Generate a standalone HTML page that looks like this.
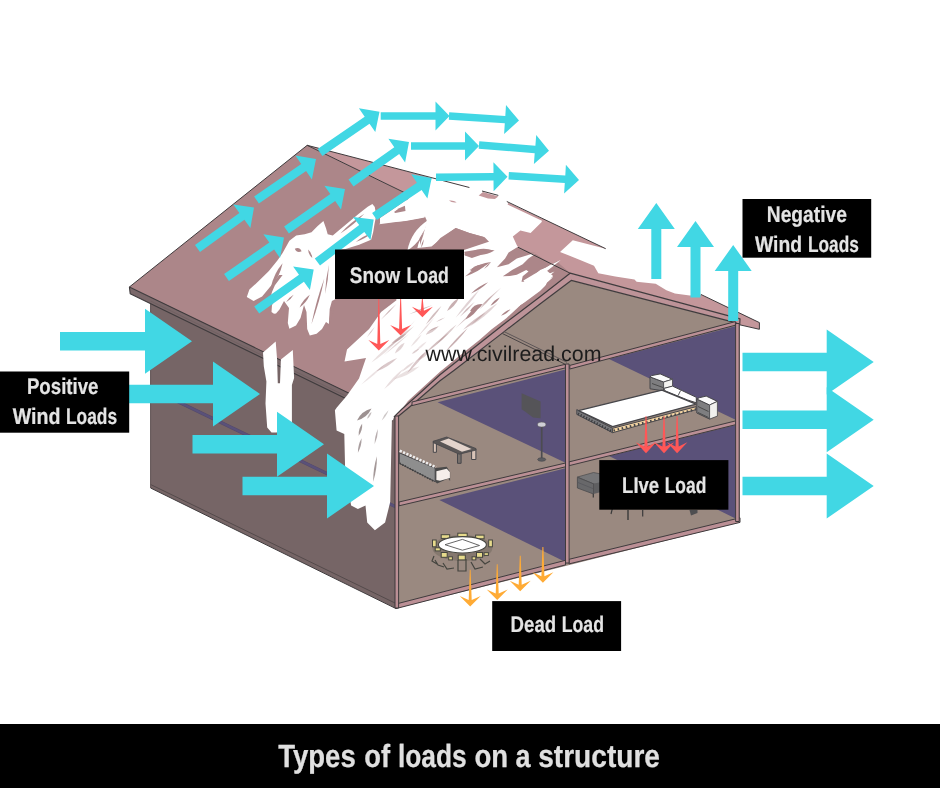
<!DOCTYPE html>
<html lang="en"><head><meta charset="utf-8"><title>Types of loads on a structure</title>
<style>
html,body{margin:0;padding:0;background:#fff;}
body{width:940px;height:788px;overflow:hidden;}
svg{display:block;font-family:"Liberation Sans",sans-serif;}
text{text-rendering:geometricPrecision;}
</style></head><body>
<svg width="940" height="788" viewBox="0 0 940 788">
<defs><filter id="gs" x="0" y="0" width="100%" height="100%" color-interpolation-filters="sRGB"><feColorMatrix type="saturate" values="0"/></filter></defs>
<rect width="940" height="788" fill="#fff"/>
<polygon points="150.6,296.0 396.0,415.0 396.0,608.6 150.6,488.0" fill="#766566" />
<line x1="150.6" y1="484.5" x2="396.0" y2="603.5" stroke="#544a4b" stroke-width="1" />
<line x1="150.6" y1="488.0" x2="396.0" y2="608.6" stroke="#3f3b3d" stroke-width="1" />
<line x1="150.6" y1="296.0" x2="150.6" y2="488.0" stroke="#5f5253" stroke-width="1" />
<line x1="150.6" y1="388.5" x2="396.0" y2="506.9" stroke="#54496a" stroke-width="3.2" />
<line x1="150.6" y1="388.5" x2="396.0" y2="506.9" stroke="#5a5179" stroke-width="2.4" />
<polygon points="307.2,145.3 499.0,195.6 506.8,201.5 605.7,248.7 700.8,294.4 759.4,322.6 759.4,329.3 739.7,324.8 740.0,318.8 570.1,273.2" fill="#c4979b" />
<polygon points="129.4,287.0 307.2,145.3 570.1,273.2 540.0,296.8 506.0,322.5 479.4,343.5 440.0,374.8 420.0,393.0 402.0,409.0 394.2,416.6 392.0,414.0" fill="#ac8689" />
<polygon points="129.4,287.0 392.0,414.0 392.0,421.0 130.2,293.8" fill="#7a686a" stroke="#3f3b3d" stroke-width="1.1" stroke-linejoin="round" />
<line x1="150.6" y1="301.0" x2="392.0" y2="418.5" stroke="#6a5c5d" stroke-width="0.6" />
<path d="M129.4,287 L307.2,145.3" fill="none" stroke="#3f3b3d" stroke-width="1"/>
<polygon points="246.8,296.9 249.4,289.6 258.7,281.1 268.9,270.9 277.4,260.6 282.6,253.0 289.4,240.7 296.2,235.6 304.7,234.3 311.5,232.2 317.4,226.3 323.4,221.1 326.0,228.3 327.7,234.3 332.8,235.6 338.7,230.5 348.9,222.0 359.1,213.5 367.7,206.7 372.4,204.1 374.8,207.0 376.2,215.5 374.5,224.0 373.1,232.6 371.1,239.7 359.1,244.8 345.5,249.1 335.7,249.9 335.7,298.9 331.9,301.0 329.7,309.1 328.9,324.0 326.0,322.0 322.0,329.0 316.6,333.8 309.8,335.5 307.2,329.0 306.5,312.0 304.0,305.0 300.5,318.0 296.0,325.5 289.4,328.7 287.8,323.0 289.0,308.0 284.0,301.0 279.5,309.5 276.0,313.5 274.0,313.8 271.5,312.0 272.0,305.0 278.0,296.0 270.0,299.0 272.0,292.1 274.9,285.3 282.6,275.1 279.1,275.1 270.6,286.3 262.1,296.4 253.6,301.0" fill="#fff"/>
<path d="M271.0,287.0 Q279.8,276.6 282.6,263.2 Q273.7,273.6 271.0,287.0Z" fill="#ac8689"/>
<path d="M294.8,248.7 Q296.9,253.5 301.6,251.3 Q299.5,246.5 294.8,248.7Z" fill="#ac8689"/>
<path d="M308.1,249.6 Q308.4,254.7 312.3,258.1 Q312.0,252.9 308.1,249.6Z" fill="#ac8689"/>
<path d="M299.6,307.4 Q306.5,302.6 309.8,294.7 Q302.8,299.6 299.6,307.4Z" fill="#ac8689"/>
<path d="M311.5,324.0 Q319.7,301.7 324.3,278.5 Q316.1,300.7 311.5,324.0Z" fill="#ac8689"/>
<path d="M325.1,293.8 Q328.5,279.6 328.9,264.9 Q325.5,279.2 325.1,293.8Z" fill="#ac8689"/>
<path d="M286.0,302.3 Q290.9,299.6 293.6,294.7 Q288.7,297.4 286.0,302.3Z" fill="#ac8689"/>
<path d="M340.4,233.4 Q353.6,225.2 364.3,213.8 Q351.0,222.0 340.4,233.4Z" fill="#ac8689"/>
<path d="M335.3,230.0 Q342.9,226.0 348.9,219.8 Q341.3,223.8 335.3,230.0Z" fill="#ac8689"/>
<path d="M355.7,241.9 Q364.7,238.9 371.9,232.9 Q363.0,235.9 355.7,241.9Z" fill="#ac8689"/>
<path d="M329.4,324.0 Q334.6,312.9 334.5,300.6 Q329.3,311.7 329.4,324.0Z" fill="#ac8689"/>
<polygon points="263.0,352.6 275.7,341.5 277.1,359.4 277.8,383.2 280.0,383.2 280.9,359.4 292.8,350.0 294.1,378.1 291.9,384.9 291.9,422.3 276.6,432.6 271.5,432.6 267.2,427.4 265.5,403.6 266.4,381.5 263.8,366.2" fill="#fff"/>
<polygon points="344.5,361.5 347.0,349.6 369.1,329.1 381.1,312.1 396.4,300.2 396.0,292.0 420.0,270.0 464.0,250.0 500.0,238.0 518.0,246.7 570.0,273.2 540.0,296.8 506.0,322.5 479.4,343.5 440.0,374.8 420.0,393.0 402.0,409.0 394.0,417.0 393.0,420.0 391.9,420.4 390.2,502.1 385.1,522.6 374.9,530.2 367.2,522.6 365.5,505.5 357.9,508.9 351.1,505.5 345.1,468.1 344.3,434.0 336.6,430.6 334.9,410.2 336.8,407.4 347.0,395.5 359.0,378.5 366.0,358.0" fill="#fff"/>
<polygon points="379.1,224.3 389.4,214.7 403.4,204.5 411.1,195.5 417.4,189.1 431.5,178.9 432.0,160.0 545.0,200.0 541.7,221.9 530.6,233.0 520.4,230.4 512.8,236.4 517.9,247.4 501.7,255.1 484.7,237.2 469.4,233.0 455.7,227.9 442.1,238.1 431.5,246.6 417.4,247.9 421.3,231.3 426.4,219.8 423.8,217.2 403.4,221.1" fill="#fff"/>
<polygon points="572.8,240.2 605.7,248.7 640.0,255.0 705.0,290.0 702.6,294.5 689.8,295.5 674.9,293.4 666.4,290.2 655.7,283.8 636.6,281.7 634.5,279.6 615.3,276.4 598.3,273.2 594.0,265.7 581.3,260.4 560.0,251.9" fill="#fff"/>
<polygon points="431.9,247.4 440.4,238.1 455.7,227.9 469.4,233.0 484.7,237.2 471.1,238.4 459.1,241.5 450.6,249.1" fill="#ac8689"/>
<polygon points="420.0,217.7 425.1,216.8 426.8,221.1 423.4,234.7 420.0,244.9" fill="#ac8689"/>
<path d="M463.4,255.1 Q479.6,255.6 494.9,250.0 Q478.7,249.5 463.4,255.1Z" fill="#ac8689"/>
<path d="M465.1,276.4 Q478.5,272.2 488.9,262.8 Q475.5,266.9 465.1,276.4Z" fill="#ac8689"/>
<path d="M471.1,293.4 Q480.7,289.6 488.1,282.3 Q478.5,286.2 471.1,293.4Z" fill="#ac8689"/>
<polygon points="408.0,401.0 420.0,390.0 440.0,371.8 458.0,357.0 479.4,340.0 492.0,329.0 506.0,318.5 519.0,306.5 540.0,291.0 548.0,283.0 560.0,276.0 570.1,273.2 540.0,296.8 506.0,322.5 479.4,343.5 440.0,374.8 420.0,393.0 402.0,409.0" fill="#ac8689"/>
<path d="M465.5,319.4 Q475.4,314.8 480.0,304.9 Q470.1,309.5 465.5,319.4Z" fill="#ac8689"/>
<polygon points="478.7,195.5 483.0,192.1 498.3,196.4 494.9,198.9 488.1,198.6" fill="#c4979b"/>
<path d="M448.9,200.6 Q452.4,203.2 456.6,202.3 Q453.1,199.8 448.9,200.6Z" fill="#c4979b"/>
<polygon points="496.9,267.2 505.1,258.4 508.6,252.6 518.0,246.7 530.9,252.6 535.5,252.8 516.8,258.4 508.6,264.3" fill="#ac8689"/>
<polygon points="502.8,276.2 512.1,270.1 522.7,264.3 528.5,258.4 535.5,253.7 542.6,258.4 551.9,264.0 546.1,267.8 540.2,270.1 533.2,276.0 526.2,281.8 521.5,281.8 522.7,276.2 528.5,271.5 526.2,270.1 516.8,274.8 509.8,276.0" fill="#ac8689"/>
<polygon points="556.6,261.3 570.6,273.6 518.0,315.7 516.8,311.1 520.3,305.2 530.9,299.4 537.9,293.5 544.9,287.7 547.2,281.8 553.1,276.0 546.1,270.1 551.9,264.3" fill="#ac8689"/>
<path d="M526.6,285.4 Q546.0,272.4 560.7,259.9 Q543.3,268.2 523.4,280.5Z" fill="#fff"/>
<path d="M536.9,285.2 Q547.1,278.6 554.5,271.5 Q544.8,274.8 534.2,280.7Z" fill="#fff"/>
<path d="M541.2,286.8 Q548.2,281.9 553.3,276.9 Q546.6,279.4 539.3,283.8Z" fill="#fff"/>
<path d="M470.0,252.6 Q482.4,257.5 494.0,250.8 Q481.6,245.8 470.0,252.6Z" fill="#ac8689"/>
<path d="M470.0,271.3 Q478.8,272.5 483.5,264.8 Q474.6,263.6 470.0,271.3Z" fill="#ac8689"/>
<path d="M490.5,305.8 Q496.5,303.3 499.8,297.6 Q493.8,300.1 490.5,305.8Z" fill="#ac8689"/>
<path d="M470.0,311.1 Q478.5,311.6 482.3,304.0 Q473.8,303.5 470.0,311.1Z" fill="#ac8689"/>
<path d="M501.0,315.7 Q506.8,314.1 510.4,309.3 Q504.6,311.0 501.0,315.7Z" fill="#ac8689"/>
<path d="M484.0,268.9 Q488.4,266.3 491.1,261.9 Q486.7,264.6 484.0,268.9Z" fill="#ac8689"/>
<polygon points="380.0,223.0 380.0,217.9 391.5,210.2 405.5,200.6 414.5,198.7 424.7,217.5 405.5,221.1" fill="#fff"/>
<polygon points="394.0,212.1 399.1,208.3 404.9,205.7 405.5,210.9 395.3,212.9" fill="#ac8689"/>
<path d="M407.4,250.4 Q423.8,239.7 427.5,220.4 Q411.1,231.2 407.4,250.4Z" fill="#fff"/>
<path d="M416.4,246.6 Q421.9,238.6 424.7,229.4 Q419.2,237.3 416.4,246.6Z" fill="#ac8689"/>
<path d="M420.9,247.9 Q423.7,243.8 424.0,238.9 Q421.2,243.0 420.9,247.9Z" fill="#ac8689"/>
<polygon points="464.3,251.7 477.0,249.8 493.6,250.2 484.7,253.6 471.9,258.1 464.9,255.5" fill="#ac8689"/>
<path d="M469.4,270.0 Q481.2,268.6 491.1,261.9 Q479.2,263.3 469.4,270.0Z" fill="#ac8689"/>
<path d="M357.0,420.4 Q367.1,417.9 371.5,408.5 Q361.4,411.1 357.0,420.4Z" fill="#857576" fill-opacity="0.80"/>
<path d="M358.7,435.7 Q362.7,430.4 362.1,423.8 Q358.1,429.1 358.7,435.7Z" fill="#857576" fill-opacity="0.75"/>
<path d="M357.9,452.8 Q361.7,446.0 361.6,438.3 Q357.8,445.0 357.9,452.8Z" fill="#857576" fill-opacity="0.70"/>
<path d="M373.2,481.7 Q377.1,469.2 376.9,456.2 Q373.0,468.6 373.2,481.7Z" fill="#857576" fill-opacity="0.75"/>
<path d="M374.6,444.3 Q377.9,437.0 378.0,428.9 Q374.6,436.2 374.6,444.3Z" fill="#857576" fill-opacity="0.60"/>
<path d="M381.7,420.4 Q386.5,416.3 388.5,410.2 Q383.7,414.4 381.7,420.4Z" fill="#857576" fill-opacity="0.40"/>
<path d="M367.2,418.7 Q370.8,416.2 371.5,411.9 Q367.9,414.4 367.2,418.7Z" fill="#857576" fill-opacity="0.50"/>
<path d="M381.1,319.4 Q389.6,312.6 396.4,304.0 Q387.8,310.8 381.1,319.4Z" fill="#ac8689" fill-opacity="0.60"/>
<path d="M367.0,337.2 Q371.7,332.7 374.7,327.0 Q370.0,331.5 367.0,337.2Z" fill="#ac8689" fill-opacity="0.50"/>
<path d="M391.3,343.6 Q400.5,340.8 406.6,333.4 Q397.4,336.2 391.3,343.6Z" fill="#ac8689" fill-opacity="0.55"/>
<path d="M409.2,314.3 Q421.2,311.2 432.1,305.3 Q420.1,308.4 409.2,314.3Z" fill="#ac8689" fill-opacity="0.60"/>
<path d="M411.7,353.8 Q416.5,352.8 419.4,348.7 Q414.5,349.8 411.7,353.8Z" fill="#ac8689" fill-opacity="0.40"/>
<path d="M393.8,379.4 Q408.3,376.4 419.4,366.6 Q404.9,369.6 393.8,379.4Z" fill="#ac8689" fill-opacity="0.25"/>
<path d="M401.5,371.7 Q409.2,368.2 414.3,361.5 Q406.6,365.0 401.5,371.7Z" fill="#ac8689" fill-opacity="0.30"/>
<path d="M383.6,309.1 Q389.4,305.8 393.8,300.9 Q388.1,304.2 383.6,309.1Z" fill="#ac8689" fill-opacity="0.50"/>
<path d="M427.0,332.1 Q433.9,329.9 439.8,325.7 Q433.0,328.0 427.0,332.1Z" fill="#ac8689" fill-opacity="0.50"/>
<path d="M436.0,321.9 Q440.9,320.6 444.9,317.4 Q440.0,318.8 436.0,321.9Z" fill="#ac8689" fill-opacity="0.50"/>
<path d="M417.5,336.9 Q427.1,327.9 434.7,317.2 Q425.1,326.2 417.5,336.9Z" fill="#ac8689" fill-opacity="0.30"/>
<path d="M425.6,334.7 Q433.5,333.1 438.3,326.6 Q430.4,328.2 425.6,334.7Z" fill="#ac8689" fill-opacity="0.43"/>
<path d="M384.2,389.0 Q395.6,380.6 403.4,368.7 Q392.0,377.2 384.2,389.0Z" fill="#ac8689" fill-opacity="0.28"/>
<path d="M436.6,344.0 Q448.1,335.7 456.6,324.4 Q445.1,332.7 436.6,344.0Z" fill="#ac8689" fill-opacity="0.43"/>
<path d="M371.4,362.4 Q386.4,353.1 398.0,339.7 Q382.9,349.0 371.4,362.4Z" fill="#ac8689" fill-opacity="0.26"/>
<path d="M477.3,309.4 Q490.2,299.7 501.0,287.7 Q488.2,297.5 477.3,309.4Z" fill="#ac8689" fill-opacity="0.52"/>
<path d="M463.1,329.7 Q475.8,323.0 485.5,312.5 Q472.9,319.2 463.1,329.7Z" fill="#ac8689" fill-opacity="0.51"/>
<path d="M407.2,373.0 Q419.2,363.0 427.5,349.8 Q415.4,359.7 407.2,373.0Z" fill="#ac8689" fill-opacity="0.45"/>
<path d="M455.7,328.0 Q467.6,318.6 477.7,307.5 Q465.9,316.8 455.7,328.0Z" fill="#ac8689" fill-opacity="0.51"/>
<path d="M479.3,309.5 Q487.2,303.5 492.7,295.2 Q484.8,301.2 479.3,309.5Z" fill="#ac8689" fill-opacity="0.52"/>
<path d="M425.9,324.4 Q435.1,316.5 441.4,306.0 Q432.2,314.0 425.9,324.4Z" fill="#ac8689" fill-opacity="0.55"/>
<path d="M417.2,360.7 Q425.0,358.4 429.2,351.3 Q421.4,353.7 417.2,360.7Z" fill="#ac8689" fill-opacity="0.39"/>
<path d="M396.0,341.8 Q406.7,331.8 415.5,320.0 Q404.7,330.0 396.0,341.8Z" fill="#ac8689" fill-opacity="0.20"/>
<path d="M410.7,346.8 Q417.6,341.9 421.6,334.5 Q414.8,339.4 410.7,346.8Z" fill="#ac8689" fill-opacity="0.25"/>
<path d="M455.8,317.6 Q469.4,305.0 479.6,289.5 Q466.0,302.1 455.8,317.6Z" fill="#ac8689" fill-opacity="0.37"/>
<path d="M361.3,384.4 Q374.9,375.2 386.2,363.2 Q372.5,372.4 361.3,384.4Z" fill="#ac8689" fill-opacity="0.24"/>
<path d="M376.4,371.3 Q388.5,367.2 397.2,357.9 Q385.1,362.1 376.4,371.3Z" fill="#ac8689" fill-opacity="0.45"/>
<path d="M445.2,352.0 Q457.9,341.3 467.8,328.0 Q455.2,338.7 445.2,352.0Z" fill="#ac8689" fill-opacity="0.66"/>
<path d="M447.0,311.1 Q455.1,306.6 458.9,298.0 Q450.7,302.5 447.0,311.1Z" fill="#ac8689" fill-opacity="0.66"/>
<path d="M394.9,353.4 Q402.1,350.2 404.6,342.8 Q397.4,346.0 394.9,353.4Z" fill="#ac8689" fill-opacity="0.36"/>
<path d="M459.9,316.8 Q468.5,310.4 474.7,301.8 Q466.1,308.1 459.9,316.8Z" fill="#ac8689" fill-opacity="0.56"/>
<path d="M386.5,349.0 Q401.5,339.3 414.0,326.3 Q398.9,336.1 386.5,349.0Z" fill="#ac8689" fill-opacity="0.43"/>
<path d="M415.7,350.9 Q422.6,347.7 426.7,341.5 Q419.9,344.6 415.7,350.9Z" fill="#ac8689" fill-opacity="0.23"/>
<path d="M383.7,355.2 Q397.2,345.7 408.9,334.1 Q395.4,343.5 383.7,355.2Z" fill="#ac8689" fill-opacity="0.33"/>
<path d="M425.4,353.1 Q438.4,344.7 448.6,333.1 Q435.6,341.5 425.4,353.1Z" fill="#ac8689" fill-opacity="0.54"/>
<path d="M469.7,326.6 Q485.6,317.1 497.8,303.1 Q481.9,312.6 469.7,326.6Z" fill="#ac8689" fill-opacity="0.36"/>
<path d="M508,203.6 L545,221.2" fill="none" stroke="#c4979b" stroke-width="2"/>
<path d="M307.2,145.3 L404,192.4" fill="none" stroke="#3f3b3d" stroke-width="1"/>
<path d="M518,247.2 L570.1,273.2" fill="none" stroke="#3f3b3d" stroke-width="1"/>
<path d="M307.2,145.3 L469.4,187.5 M482,191 L498.3,195.4 M506.8,201.5 L605.7,248.7 M700.8,294.4 L759.4,322.6 L759.4,329.3 L739.7,324.8" fill="none" stroke="#3f3b3d" stroke-width="1"/>
<polygon points="398.0,416.5 412.0,405.0 440.0,380.8 453.9,370.5 502.9,332.6 540.0,303.9 571.2,280.4 735.4,322.6 740.0,324.0 740.0,522.0 396.0,608.6 396.0,416.0" fill="#9a8980" />
<polygon points="394.2,416.6 402.0,409.0 420.0,393.0 440.0,374.8 479.4,343.5 506.0,322.5 540.0,296.8 570.1,273.2 740.0,318.8 739.7,324.8 735.4,322.6 571.2,280.4 540.0,303.9 502.9,332.6 453.9,370.5 440.0,380.8 412.0,405.0 398.0,416.5" fill="#bd9398" stroke="#3f3b3d" stroke-width="1.2" stroke-linejoin="round" />
<polygon points="437.6,402.2 565.5,369.5 565.5,462.7" fill="#5a5179" />
<polygon points="609.0,359.0 736.0,326.0 736.0,420.0" fill="#5a5179" />
<polygon points="439.3,500.0 565.5,468.3 565.5,562.0" fill="#5a5179" />
<polygon points="609.0,456.0 736.0,425.0 736.0,518.8" fill="#5a5179" />
<polygon points="412.0,402.0 565.3,364.3 565.3,367.9 412.0,405.6" fill="#bb8f95" stroke="#3f3b3d" stroke-width="1" stroke-linejoin="round" />
<polygon points="569.8,365.4 735.4,321.6 735.4,325.2 569.8,369.0" fill="#bb8f95" stroke="#3f3b3d" stroke-width="1" stroke-linejoin="round" />
<polygon points="399.0,502.0 565.5,463.0 565.5,466.8 399.0,505.8" fill="#bb8f95" stroke="#3f3b3d" stroke-width="1" stroke-linejoin="round" />
<polygon points="569.0,461.9 736.0,420.8 736.0,424.6 569.0,465.7" fill="#bb8f95" stroke="#3f3b3d" stroke-width="1" stroke-linejoin="round" />
<polygon points="396.0,604.0 565.5,560.3 565.5,564.9 396.0,608.6" fill="#bb8f95" stroke="#3f3b3d" stroke-width="1" stroke-linejoin="round" />
<polygon points="569.0,559.3 740.0,517.8 740.0,522.4 569.0,563.9" fill="#bb8f95" stroke="#3f3b3d" stroke-width="1" stroke-linejoin="round" />
<polygon points="395.0,416.0 398.6,416.0 398.6,608.0 395.0,608.0" fill="#bb8f95" stroke="#3f3b3d" stroke-width="1" stroke-linejoin="round" />
<polygon points="565.5,364.0 569.1,364.0 569.1,563.0 565.5,563.0" fill="#bb8f95" stroke="#3f3b3d" stroke-width="1" stroke-linejoin="round" />
<polygon points="735.6,323.5 739.2,323.5 739.2,521.5 735.6,521.5" fill="#bb8f95" stroke="#3f3b3d" stroke-width="1" stroke-linejoin="round" />
<line x1="502.5" y1="333.6" x2="565.3" y2="364.3" stroke="#3f3b3d" stroke-width="0.9" />
<line x1="504.0" y1="331.6" x2="567.0" y2="362.3" stroke="#575052" stroke-width="0.9" />
<g filter="url(#gs)"><text x="425.5" y="360.7" font-size="21.33" fill="#1c1c1c" font-weight="normal" textLength="176" lengthAdjust="spacingAndGlyphs">www.civilread.com</text></g>
<polygon points="576.8,409.6 612.6,428.3 612.6,432.7 576.8,414.4" fill="#77777a" stroke="#46464a" stroke-width="1" stroke-linejoin="round" />
<polygon points="612.6,428.3 696.0,406.7 696.0,409.6 612.6,432.7" fill="#f2d3a2" stroke="#46464a" stroke-width="1" stroke-linejoin="round" />
<path d="M613.5,430.6 L696,409.2" stroke="#46464a" stroke-width="2.2" stroke-dasharray="1.6 2.6" fill="none"/>
<path d="M578,413.6 L611.5,431.2" stroke="#3c3c3f" stroke-width="2.4" stroke-dasharray="1.2 1.8" fill="none"/>
<polygon points="650.0,376.9 663.6,382.0 663.6,390.9 650.0,388.8" fill="#7e7e80" stroke="#46464a" stroke-width="1" stroke-linejoin="round" />
<polygon points="651.7,375.6 660.2,373.9 672.5,379.3 663.6,382.0 650.0,376.9" fill="#fafafa" stroke="#46464a" stroke-width="1" stroke-linejoin="round" />
<polygon points="663.6,382.0 672.5,379.3 672.5,386.4 663.6,388.5" fill="#f4f4f2" stroke="#46464a" stroke-width="0.8" stroke-linejoin="round" />
<path d="M652,383.5 L663,387.5" stroke="#4a4a4a" stroke-width="1"/>
<polygon points="663.6,388.5 672.5,386.1 696.3,397.3 696.3,402.8 687.4,399.9 665.3,390.9" fill="#ffffff" stroke="#46464a" stroke-width="1" stroke-linejoin="round" />
<path d="M680.6,390.5 L678.1,395.6" stroke="#46464a" stroke-width="0.9"/>
<polygon points="578.5,410.6 661.9,390.2 696.0,404.1 612.6,426.6" fill="#ffffff" stroke="#46464a" stroke-width="1.3" stroke-linejoin="round" />
<polygon points="696.8,399.0 709.6,405.0 709.6,419.1 696.8,413.0" fill="#7e7e80" stroke="#46464a" stroke-width="1" stroke-linejoin="round" />
<polygon points="699.4,397.7 706.2,396.1 717.4,401.4 709.6,405.0 696.8,399.0" fill="#fafafa" stroke="#46464a" stroke-width="1" stroke-linejoin="round" />
<polygon points="709.6,405.0 717.4,401.4 717.4,416.1 709.6,419.1" fill="#f1f1ee" stroke="#46464a" stroke-width="0.8" stroke-linejoin="round" />
<path d="M698,406.5 L708.5,411.5 M698,412.5 L708.5,417.5" stroke="#4a4a4a" stroke-width="1"/>
<polygon points="521.6,393.2 540.6,401.6 540.6,418.3 533.0,417.6 525.0,411.6 521.6,409.3" fill="#555458" />
<line x1="541.7" y1="426.0" x2="541.7" y2="459.0" stroke="#4c4c50" stroke-width="1.7" />
<ellipse cx="541.7" cy="424.6" rx="4.2" ry="2.5" fill="#cfcfd6" stroke="#5a5a5a" stroke-width="0.6"/>
<ellipse cx="541.7" cy="459.5" rx="4" ry="1.7" fill="#5c5c60" stroke="#4a4a4e" stroke-width="0.8"/>
<polygon points="433.3,441.3 436.4,441.3 436.4,452.3 433.3,452.3" fill="#d9c4b8" stroke="#46464a" stroke-width="1" stroke-linejoin="round" />
<polygon points="457.5,453.7 461.1,453.0 461.1,463.3 457.5,463.3" fill="#77706c" stroke="#46464a" stroke-width="1" stroke-linejoin="round" />
<polygon points="471.6,450.1 475.9,448.9 475.9,459.5 471.6,459.5" fill="#d9c4b8" stroke="#46464a" stroke-width="1" stroke-linejoin="round" />
<polygon points="433.3,441.3 446.7,437.0 475.9,448.5 475.9,450.1 459.2,454.2 433.3,442.7" fill="#5a5656" stroke="#46464a" stroke-width="0.8" stroke-linejoin="round" />
<polygon points="440.0,441.5 448.6,438.6 471.6,448.9 462.0,451.8" fill="#e4d4cc" />
<polygon points="399.3,452.8 435.2,468.1 435.2,481.7 399.3,463.3" fill="#8e8e8e" stroke="#46464a" stroke-width="1" stroke-linejoin="round" />
<path d="M399.8,450.7 L436.0,467.3" stroke="#efefef" stroke-width="2.6" stroke-dasharray="2.2 1.4" fill="none"/>
<path d="M399.8,463.3 L434.3,481.5" stroke="#3f3f3f" stroke-width="1.8" stroke-dasharray="1.2 1.6" fill="none"/>
<polygon points="435.2,468.1 446.7,466.7 450.1,471.9 450.1,481.0 448.2,478.6 437.1,483.4 435.2,481.7" fill="#4a4a4a" />
<polygon points="436.4,471.2 446.7,468.8 449.9,472.1 449.9,478.0 440.0,480.8 436.4,479.9" fill="#f5eeea" />
<ellipse cx="462.4" cy="548" rx="30" ry="13" fill="#6f675c" opacity="0.5"/>
<rect x="441.2" y="534.7" width="8.5" height="3.7" fill="#e7db8c" stroke="#45453f" stroke-width="1"/>
<rect x="457.8" y="533.2" width="9.4" height="3.4" fill="#e7db8c" stroke="#45453f" stroke-width="1"/>
<rect x="475.6" y="535.1" width="8.5" height="3.7" fill="#e7db8c" stroke="#45453f" stroke-width="1"/>
<rect x="432.5" y="540.0" width="3.7" height="6.8" fill="#e7db8c" stroke="#45453f" stroke-width="1"/>
<rect x="488.7" y="540.0" width="3.7" height="6.8" fill="#e7db8c" stroke="#45453f" stroke-width="1"/>
<rect x="435.2" y="547.8" width="5.1" height="3.1" fill="#e7db8c" stroke="#45453f" stroke-width="1"/>
<rect x="441.2" y="552.5" width="6.0" height="4.8" fill="#e7db8c" stroke="#45453f" stroke-width="1"/>
<rect x="448.7" y="556.8" width="3.7" height="3.1" fill="#e7db8c" stroke="#45453f" stroke-width="1"/>
<rect x="458.2" y="555.1" width="7.1" height="4.8" fill="#e7db8c" stroke="#45453f" stroke-width="1"/>
<rect x="472.1" y="556.8" width="3.7" height="3.1" fill="#e7db8c" stroke="#45453f" stroke-width="1"/>
<rect x="476.5" y="552.5" width="6.0" height="4.8" fill="#e7db8c" stroke="#45453f" stroke-width="1"/>
<rect x="484.1" y="552.7" width="4.3" height="2.7" fill="#e7db8c" stroke="#45453f" stroke-width="1"/>
<path d="M435,560 l3,5 l6,2 M443,563 l4,6 l7,-1 M458,560 v11 h8 v-12 M471,562 l4,7 l8,-2 M480,559 l5,5 l5,-3 M434,556 l-2,5 l5,3" stroke="#45453f" stroke-width="1.2" fill="none"/>
<ellipse cx="462.4" cy="544.8" rx="24" ry="8.2" fill="#ffffff" stroke="#45453f" stroke-width="1.1"/>
<polygon points="445.0,544.7 462.4,539.4 479.5,545.5 462.4,550.2" fill="#ffffff" stroke="#555" stroke-width="0.9" stroke-linejoin="round" />
<polygon points="577.4,477.0 593.5,472.5 601.0,474.0 601.0,485.0 593.5,484.0" fill="#767678" stroke="#4a4a4c" stroke-width="0.7" stroke-linejoin="round" />
<polygon points="593.5,483.8 601.0,482.0 601.0,492.0 593.5,494.0" fill="#5f5f61" />
<polygon points="577.4,477.3 593.5,483.8 593.5,494.0 577.4,488.0" fill="#68686a" stroke="#4a4a4c" stroke-width="0.8" stroke-linejoin="round" />
<line x1="578.0" y1="482.5" x2="593.0" y2="488.6" stroke="#55555a" stroke-width="0.7" />
<line x1="593.3" y1="494.0" x2="593.3" y2="497.5" stroke="#3a3a3a" stroke-width="1.2" />
<line x1="612.5" y1="508.0" x2="611.0" y2="514.0" stroke="#3a3a3a" stroke-width="1.2" />
<line x1="628.0" y1="510.0" x2="628.0" y2="520.0" stroke="#3a3a3a" stroke-width="1.4" />
<line x1="642.7" y1="510.0" x2="642.7" y2="516.5" stroke="#3a3a3a" stroke-width="1.2" />
<polygon points="689.5,510.0 697.5,510.0 697.5,513.0 691.0,515.5" fill="#4e4e50" />
<polygon points="60.0,350.6 145.0,350.6 145.0,373.8 192.0,341.3 145.0,308.8 145.0,332.1 60.0,332.1" fill="#41d7e4" />
<polygon points="128.0,403.2 213.0,403.2 213.0,426.5 260.0,394.0 213.0,361.5 213.0,384.8 128.0,384.8" fill="#41d7e4" />
<polygon points="192.5,453.4 277.0,453.4 277.0,476.7 324.0,444.2 277.0,411.7 277.0,434.9 192.5,434.9" fill="#41d7e4" />
<polygon points="242.5,495.2 327.0,495.2 327.0,518.5 374.0,486.0 327.0,453.5 327.0,476.8 242.5,476.8" fill="#41d7e4" />
<polygon points="742.5,371.2 826.7,371.2 826.7,394.5 873.7,362.0 826.7,329.5 826.7,352.8 742.5,352.8" fill="#41d7e4" />
<polygon points="742.5,428.9 826.7,428.9 826.7,452.2 873.7,419.7 826.7,387.2 826.7,410.4 742.5,410.4" fill="#41d7e4" />
<polygon points="742.5,495.2 826.7,495.2 826.7,518.5 873.7,486.0 826.7,453.5 826.7,476.8 742.5,476.8" fill="#41d7e4" />
<polygon points="661.3,279.0 661.3,229.0 674.8,229.0 656.3,203.0 637.8,229.0 651.3,229.0 651.3,279.0" fill="#41d7e4" />
<polygon points="700.5,297.5 700.5,247.0 714.0,247.0 695.5,221.0 677.0,247.0 690.5,247.0 690.5,297.5" fill="#41d7e4" />
<polygon points="738.2,321.0 738.2,271.0 751.7,271.0 733.2,245.0 714.7,271.0 728.2,271.0 728.2,321.0" fill="#41d7e4" />
<polygon points="200.0,251.9 244.4,219.7 250.4,228.0 254.0,207.5 233.3,204.6 239.4,212.9 195.0,245.1" fill="#41d7e4" />
<polygon points="258.9,203.5 306.1,171.0 311.9,179.5 316.0,159.0 295.4,155.6 301.2,164.0 254.1,196.5" fill="#41d7e4" />
<polygon points="322.4,156.0 369.5,123.7 375.3,132.1 379.5,111.7 358.9,108.2 364.7,116.7 317.6,149.0" fill="#41d7e4" />
<polygon points="228.9,281.0 274.1,249.6 280.0,258.0 284.0,237.5 263.4,234.2 269.3,242.6 224.1,274.0" fill="#41d7e4" />
<polygon points="288.9,233.5 335.2,201.1 341.0,209.5 345.0,189.0 324.4,185.7 330.3,194.1 284.1,226.5" fill="#41d7e4" />
<polygon points="353.5,186.5 399.2,154.1 405.1,162.5 409.0,142.0 388.4,138.8 394.3,147.2 348.5,179.5" fill="#41d7e4" />
<polygon points="259.2,313.5 303.9,281.7 309.9,290.0 313.7,269.5 293.1,266.4 299.0,274.7 254.2,306.5" fill="#41d7e4" />
<polygon points="320.0,265.4 364.3,231.9 370.5,240.1 373.7,219.5 353.0,217.0 359.2,225.1 314.8,258.6" fill="#41d7e4" />
<polygon points="376.9,220.0 421.6,189.9 427.4,198.4 431.7,178.0 411.2,174.3 416.9,182.8 372.1,213.0" fill="#41d7e4" />
<polygon points="380.7,119.8 435.5,119.8 435.5,130.5 449.5,116.0 435.5,101.5 435.5,112.2 380.7,112.2" fill="#41d7e4" />
<polygon points="448.8,119.7 504.8,123.3 504.1,134.1 519.0,120.5 506.0,105.1 505.3,115.9 449.2,112.3" fill="#41d7e4" />
<polygon points="411.0,149.8 465.0,149.8 465.0,160.5 479.0,146.0 465.0,131.5 465.0,142.2 411.0,142.2" fill="#41d7e4" />
<polygon points="478.7,148.7 534.7,153.3 533.9,164.0 549.0,150.7 536.2,135.1 535.4,145.8 479.3,141.3" fill="#41d7e4" />
<polygon points="436.0,181.0 493.5,180.6 493.6,191.3 507.5,176.7 493.4,162.3 493.5,173.1 436.0,173.6" fill="#41d7e4" />
<polygon points="508.5,179.4 564.8,182.9 564.1,193.6 579.0,180.0 565.9,164.7 565.3,175.4 508.9,172.0" fill="#41d7e4" />
<polygon points="378.4,299.0 379.2,299.0 380.3,343.9 389.3,339.9 378.8,350.4 368.3,339.9 377.3,343.9" fill="#ff5757" />
<polygon points="400.2,299.0 401.1,299.0 402.1,329.1 411.1,325.1 400.6,335.6 390.1,325.1 399.1,329.1" fill="#ff5757" />
<polygon points="421.9,299.0 422.8,299.0 423.9,310.7 432.9,306.7 422.4,317.2 411.9,306.7 420.9,310.7" fill="#ff5757" />
<polygon points="645.5,416.3 646.5,416.3 647.6,446.4 656.2,442.2 646.0,453.2 635.8,442.2 644.4,446.4" fill="#ff5757" />
<polygon points="663.5,416.3 664.5,416.3 665.6,446.4 674.2,442.2 664.0,453.2 653.8,442.2 662.4,446.4" fill="#ff5757" />
<polygon points="676.6,416.3 677.6,416.3 678.7,446.4 687.4,442.2 677.1,453.2 666.9,442.2 675.5,446.4" fill="#ff5757" />
<polygon points="469.8,569.7 470.6,569.7 471.7,599.9 480.7,595.9 470.2,606.4 459.7,595.9 468.7,599.9" fill="#ffab35" />
<polygon points="496.8,564.3 497.6,564.3 498.7,593.5 507.7,589.5 497.2,600.0 486.7,589.5 495.7,593.5" fill="#ffab35" />
<polygon points="519.8,555.7 520.7,555.7 521.7,584.8 530.7,580.8 520.2,591.3 509.7,580.8 518.7,584.8" fill="#ffab35" />
<polygon points="542.4,547.0 543.4,547.0 544.4,576.2 553.4,572.2 542.9,582.7 532.4,572.2 541.4,576.2" fill="#ffab35" />
<g filter="url(#gs)">
<rect x="335" y="249.5" width="129" height="49.5" fill="#000"/>
<text y="283.2" font-size="22.6" font-weight="bold" fill="#e4e4e4" stroke="#e4e4e4" stroke-width="0.2" stroke-linejoin="round"><tspan x="349.8" textLength="50.3" lengthAdjust="spacingAndGlyphs">Snow</tspan> <tspan x="406.5" textLength="42.3" lengthAdjust="spacingAndGlyphs">Load</tspan></text>
<rect x="0" y="371.5" width="129.2" height="61.2" fill="#000"/>
<text y="394" font-size="22.6" font-weight="bold" fill="#e4e4e4" stroke="#e4e4e4" stroke-width="0.2" stroke-linejoin="round"><tspan x="26.9" textLength="71.6" lengthAdjust="spacingAndGlyphs">Positive</tspan></text>
<text y="424" font-size="22.6" font-weight="bold" fill="#e4e4e4" stroke="#e4e4e4" stroke-width="0.2" stroke-linejoin="round"><tspan x="12.7" textLength="47.8" lengthAdjust="spacingAndGlyphs">Wind</tspan> <tspan x="66.0" textLength="51.1" lengthAdjust="spacingAndGlyphs">Loads</tspan></text>
<rect x="742.5" y="199" width="128.7" height="58.7" fill="#000"/>
<text y="222.2" font-size="22.6" font-weight="bold" fill="#e4e4e4" stroke="#e4e4e4" stroke-width="0.2" stroke-linejoin="round"><tspan x="766.8" textLength="80.1" lengthAdjust="spacingAndGlyphs">Negative</tspan></text>
<text y="251.7" font-size="22.6" font-weight="bold" fill="#e4e4e4" stroke="#e4e4e4" stroke-width="0.2" stroke-linejoin="round"><tspan x="755.0" textLength="47.1" lengthAdjust="spacingAndGlyphs">Wind</tspan> <tspan x="808.0" textLength="50.9" lengthAdjust="spacingAndGlyphs">Loads</tspan></text>
<rect x="599.3" y="460.1" width="129.1" height="49.6" fill="#000"/>
<text y="493" font-size="22.6" font-weight="bold" fill="#e4e4e4" stroke="#e4e4e4" stroke-width="0.2" stroke-linejoin="round"><tspan x="622.1" textLength="37.0" lengthAdjust="spacingAndGlyphs">LIve</tspan> <tspan x="664.7" textLength="41.7" lengthAdjust="spacingAndGlyphs">Load</tspan></text>
<rect x="492.2" y="601.1" width="128.9" height="49.9" fill="#000"/>
<text y="631.9" font-size="22.6" font-weight="bold" fill="#e4e4e4" stroke="#e4e4e4" stroke-width="0.2" stroke-linejoin="round"><tspan x="510.6" textLength="45.5" lengthAdjust="spacingAndGlyphs">Dead</tspan> <tspan x="561.7" textLength="42.3" lengthAdjust="spacingAndGlyphs">Load</tspan></text>
<rect x="0" y="724" width="940" height="64" fill="#000"/>
<text y="766.8" font-size="32" font-weight="bold" fill="#e0e0e0" stroke="#e0e0e0" stroke-width="0.25" stroke-linejoin="round"><tspan x="278.2" textLength="77.5" lengthAdjust="spacingAndGlyphs">Types</tspan> <tspan x="364.2" textLength="25.8" lengthAdjust="spacingAndGlyphs">of</tspan> <tspan x="397.9" textLength="68.8" lengthAdjust="spacingAndGlyphs">loads</tspan> <tspan x="474.5" textLength="33.7" lengthAdjust="spacingAndGlyphs">on</tspan> <tspan x="515.6" textLength="15.0" lengthAdjust="spacingAndGlyphs">a</tspan> <tspan x="538.2" textLength="121.8" lengthAdjust="spacingAndGlyphs">structure</tspan></text>
</g>
</svg>
</body></html>
